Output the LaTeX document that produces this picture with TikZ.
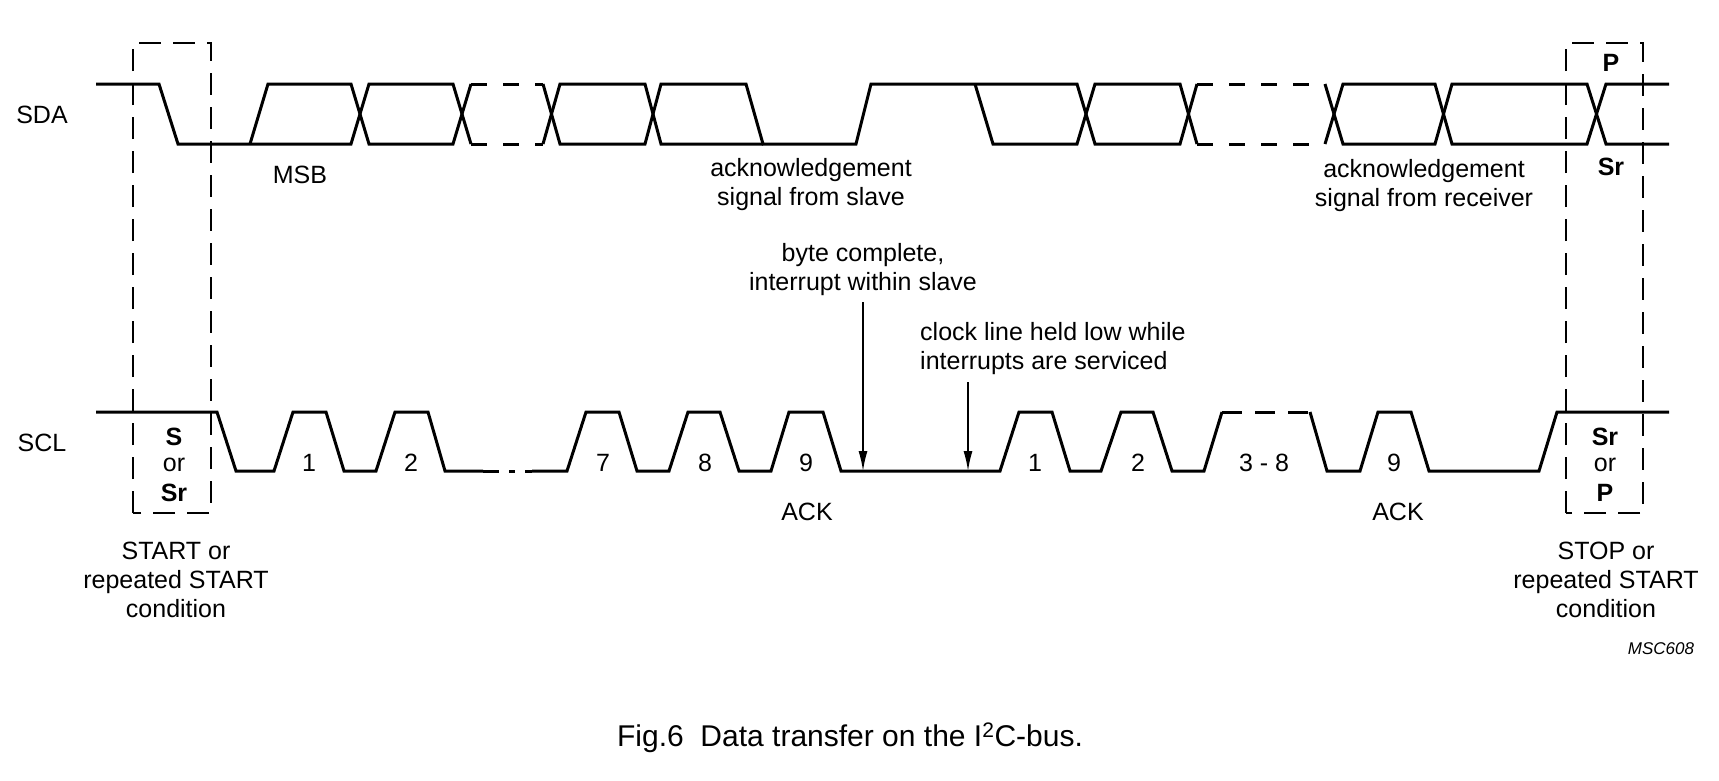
\documentclass[tikz,border=0pt]{standalone}
\usepackage{fontspec}
\setmainfont{Liberation Sans}
\usetikzlibrary{arrows.meta}
\begin{document}
\begin{tikzpicture}[x=1pt,y=-1pt,
  sig/.style={line width=3pt,line join=miter},
  dsig/.style={sig,dash pattern=on 16pt off 16pt},
  box/.style={line width=2.5pt,dash pattern=on 22pt off 12pt},
  lbl/.style={font=\fontsize{25}{29}\selectfont,inner sep=0pt,align=center},
  blbl/.style={lbl,font=\fontsize{25}{29}\selectfont\bfseries},
  arr/.style={line width=1.5pt,-{Latex[length=20pt,width=9pt]}}]
\useasboundingbox (0,0) rectangle (1719,780);
\def\H{84}\def\L{144}\def\CH{412}\def\CL{471}
% dashed boxes
\draw[box] (133,513) -- (133,43) -- (211,43) -- (211,513) -- cycle;
\draw[box] (1566,513) -- (1566,43) -- (1643,43) -- (1643,513) -- cycle;
% SDA
\draw[sig] (96,\H) -- (159,\H) -- (178,\L) -- (250,\L) -- (351,\L) -- (369,\H) -- (453,\H) -- (471,\L);
\draw[sig] (250,\L) -- (268,\H) -- (351,\H) -- (369,\L) -- (453,\L) -- (471,\H);
\draw[dsig] (471,\H) -- (543,\H);
\draw[dsig] (471,\L) -- (543,\L);
\draw[sig] (543,\H) -- (560,\L) -- (645,\L) -- (661,\H) -- (746,\H) -- (763,\L) -- (856,\L) -- (871,\H) -- (1077,\H) -- (1095,\L) -- (1180,\L) -- (1197,\H);
\draw[sig] (543,\L) -- (560,\H) -- (645,\H) -- (661,\L) -- (746,\L) -- (763,\L);
\draw[sig] (975,\H) -- (993,\L) -- (1077,\L) -- (1095,\H) -- (1180,\H) -- (1197,\L);
\draw[dsig] (1197,\H) -- (1325,\H);
\draw[dsig] (1197,\L) -- (1325,\L);
\draw[sig] (1325,\H) -- (1343,\L) -- (1435,\L) -- (1452,\H) -- (1587,\H) -- (1606,\L) -- (1669,\L);
\draw[sig] (1325,\L) -- (1343,\H) -- (1435,\H) -- (1452,\L) -- (1587,\L) -- (1606,\H) -- (1669,\H);
% SCL
\draw[sig] (96,\CH) -- (217,\CH) -- (236,\CL) -- (274,\CL) -- (293,\CH) -- (326,\CH) -- (344,\CL) -- (376,\CL) -- (395,\CH) -- (428,\CH) -- (445,\CL) -- (483,\CL);
\draw[sig,dash pattern=on 16pt off 10pt on 6pt off 10pt] (483,\CL) -- (532,\CL);
\draw[sig] (532,\CL) -- (567,\CL) -- (586,\CH) -- (619,\CH) -- (637,\CL) -- (669,\CL) -- (688,\CH) -- (720,\CH) -- (739,\CL) -- (771,\CL) -- (789,\CH) -- (823,\CH) -- (841,\CL) -- (1000,\CL) -- (1019,\CH) -- (1052,\CH) -- (1070,\CL) -- (1101,\CL) -- (1121,\CH) -- (1153,\CH) -- (1172,\CL) -- (1204,\CL) -- (1222,\CH);
\draw[dsig,dash pattern=on 20pt off 13pt] (1222,\CH) -- (1310,\CH);
\draw[sig] (1310,\CH) -- (1327,\CL) -- (1360,\CL) -- (1378,\CH) -- (1411,\CH) -- (1429,\CL) -- (1539,\CL) -- (1557,\CH) -- (1669,\CH);
% labels
\node[lbl] (sda) at (42,115) {SDA};
\node[lbl] (scl) at (42,443) {SCL};
\node[lbl] (msb) at (300,175) {MSB};
\node[lbl] (acks) at (811,185) {acknowledgement\\signal from slave};
\node[lbl] (ackr) at (1424,186) {acknowledgement\\signal from receiver};
\node[lbl] (byte) at (863,270) {byte complete,\\interrupt within slave};
\node[lbl,align=left,anchor=west] (clk) at (920,349) {clock line held low while\\interrupts are serviced};
\node[blbl] (p1) at (1611,63) {P};
\node[blbl] (sr1) at (1611,167) {Sr};
\node[blbl] (s) at (174,437) {S};
\node[lbl] (or1) at (174,465) {or};
\node[blbl] (sr2) at (174,493) {Sr};
\node[blbl] (sr3) at (1605,437) {Sr};
\node[lbl] (or2) at (1605,465) {or};
\node[blbl] (p2) at (1605,493) {P};
\foreach \x/\t [count=\i] in {309/1,411/2,603/7,705/8,806/9,1035/1,1138/2,1264/3 - 8,1394/9}
  \node[lbl] (n\i) at (\x,463) {\t};
\node[lbl] (ack1) at (807,512) {ACK};
\node[lbl] (ack2) at (1398,512) {ACK};
\node[lbl] (start) at (176,580) {START or\\repeated START\\condition};
\node[lbl] (stop) at (1606,580) {STOP or\\repeated START\\condition};
\node[lbl,font=\fontsize{17}{20}\selectfont\itshape] (msc) at (1661,649) {MSC608};
\node[lbl,font=\fontsize{30}{34}\selectfont] (cap) at (850,738) {Fig.6\ \ Data transfer on the I\textsuperscript{2}C-bus.};
% arrows
\coordinate (a1) at (863,\CL);
\coordinate (a2) at (968,\CL);
\draw[arr] (863,302) -- (a1);
\draw[arr] (968,382) -- (a2);
\end{tikzpicture}
\end{document}
